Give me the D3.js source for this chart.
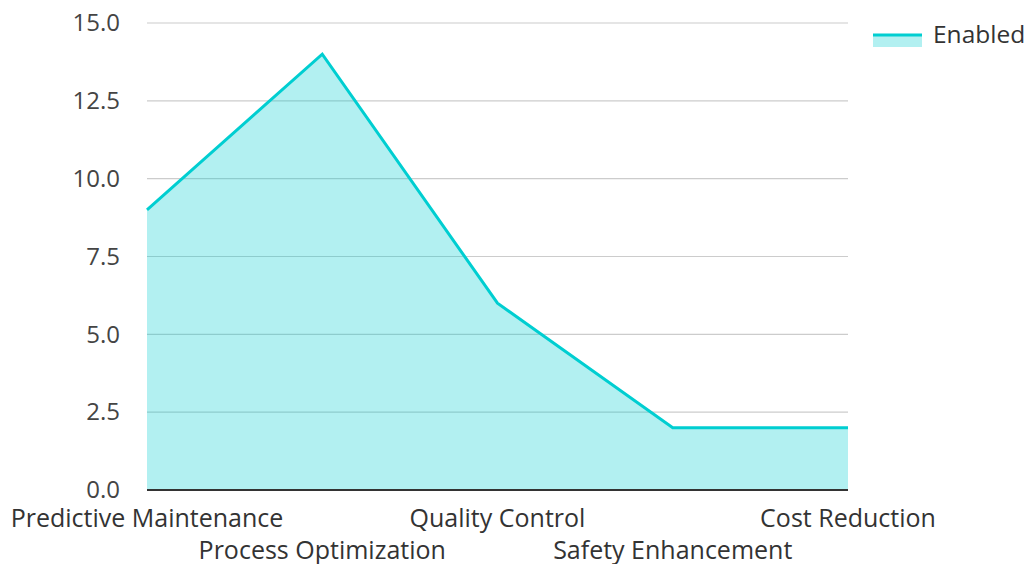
<!DOCTYPE html>
<html>
<head>
<meta charset="utf-8">
<script src="https://cdn.jsdelivr.net/npm/d3@7"></script>
<style>
  body { margin: 0; background: #fff; }
  svg { display: block; font-family: "Open Sans", "Noto Sans", sans-serif; }
</style>
</head>
<body>
<svg id="chart" width="1029" height="564"></svg>
<script>
const categories = ["Predictive Maintenance", "Process Optimization", "Quality Control", "Safety Enhancement", "Cost Reduction"];
const enabledValues = [9, 14, 6, 2, 2];
const yTicks = [0, 2.5, 5, 7.5, 10, 12.5, 15];
const seriesName = "Enabled";

const color = "#00CED1";
const svg = d3.select("#chart");
const margin = { left: 147, right: 181, top: 23, bottom: 74 };
const W = 1029, H = 564;

const x = d3.scalePoint().domain(categories).range([margin.left, W - margin.right]);
const y = d3.scaleLinear().domain([0, 15]).range([H - margin.bottom, margin.top]);

// grid lines
svg.append("g")
  .selectAll("line")
  .data(yTicks.filter(d => d > 0))
  .join("line")
  .attr("x1", margin.left).attr("x2", W - margin.right)
  .attr("y1", d => y(d)).attr("y2", d => y(d))
  .attr("stroke", "#cccccc").attr("stroke-width", 1.2);

const data = categories.map((c, i) => ({ c, v: enabledValues[i] }));

// filled area
svg.append("path")
  .datum(data)
  .attr("fill", color).attr("fill-opacity", 0.3)
  .attr("d", d3.area().x(d => x(d.c)).y0(y(0)).y1(d => y(d.v)));

// line
svg.append("path")
  .datum(data)
  .attr("fill", "none").attr("stroke", color).attr("stroke-width", 3)
  .attr("stroke-linejoin", "miter")
  .attr("d", d3.line().x(d => x(d.c)).y(d => y(d.v)));

// y axis labels
const yAxis = svg.append("g")
  .attr("transform", `translate(${margin.left},0)`)
  .call(d3.axisLeft(y).tickValues(yTicks).tickFormat(d3.format(".1f")).tickSize(0).tickPadding(27));
yAxis.select(".domain").remove();
yAxis.selectAll("text").attr("font-size", 24).attr("fill", "#444").attr("font-family", "'Open Sans', sans-serif");

// x axis baseline
svg.append("line")
  .attr("x1", margin.left).attr("x2", W - margin.right)
  .attr("y1", y(0)).attr("y2", y(0))
  .attr("stroke", "#333").attr("stroke-width", 2);

// x labels, staggered on two rows
svg.append("g")
  .selectAll("text")
  .data(categories)
  .join("text")
  .attr("x", d => x(d))
  .attr("y", (d, i) => i % 2 === 0 ? 527 : 559)
  .attr("text-anchor", "middle")
  .attr("font-size", 25)
  .attr("fill", "#333")
  .text(d => d);

// legend
const lg = svg.append("g").attr("transform", "translate(873,35)");
lg.append("rect").attr("x", 0).attr("y", 0).attr("width", 49).attr("height", 12)
  .attr("fill", color).attr("fill-opacity", 0.3);
lg.append("line").attr("x1", 0).attr("x2", 49).attr("y1", 0).attr("y2", 0)
  .attr("stroke", color).attr("stroke-width", 3);
lg.append("text").attr("x", 60).attr("y", 8).attr("font-size", 24.5).attr("fill", "#333")
  .text(seriesName);
</script>
</body>
</html>
